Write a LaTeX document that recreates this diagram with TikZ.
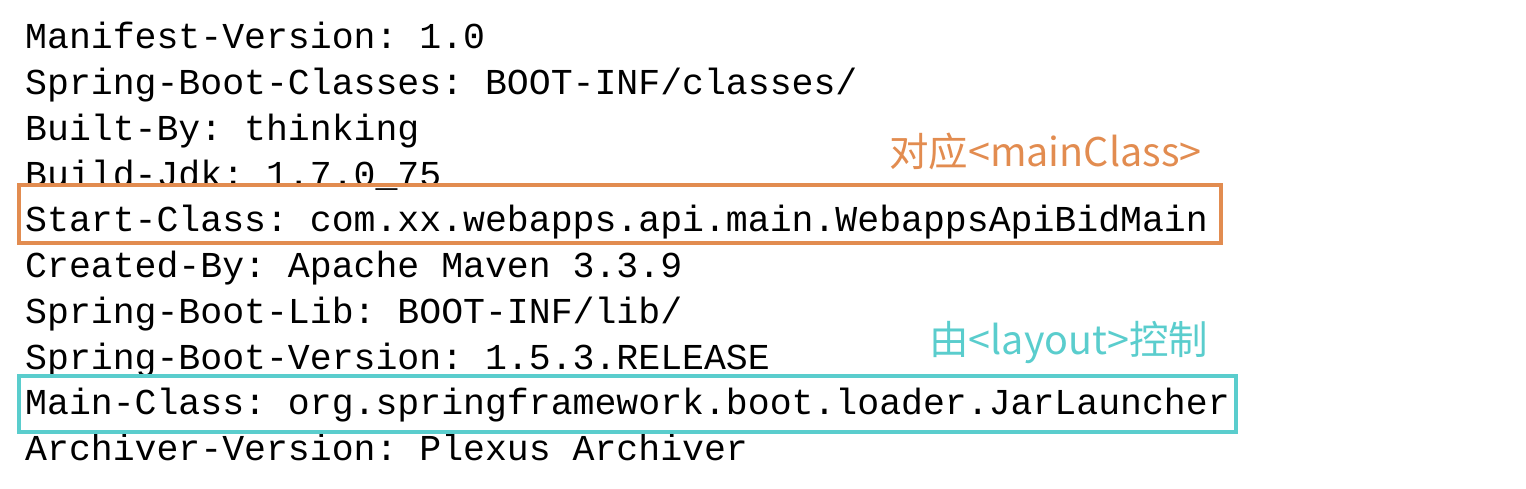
\documentclass[tikz,border=0pt]{standalone}
\usepackage{fontspec}
\setmonofont{Liberation Mono}
\newfontfamily\cjk{Noto Sans CJK SC}
\definecolor{orng}{RGB}{226,140,80}
\definecolor{cyn}{RGB}{90,205,205}
\begin{document}
\begin{tikzpicture}[x=1pt,y=-1pt,
  ln/.style={anchor=base west,inner sep=0pt,font=\ttfamily\fontsize{36.5}{40}\selectfont},
  lbl/.style={anchor=base west,inner sep=0pt,font=\cjk\fontsize{39.5}{43}\selectfont},
  hbox/.style={draw,line width=3.5pt}]
\useasboundingbox (0,0) rectangle (1526,488);
\node[ln] (l1) at (25,48) {Manifest-Version: 1.0};
\node[ln] (l2) at (25,94) {Spring-Boot-Classes: BOOT-INF/classes/};
\node[ln] (l3) at (25,140) {Built-By: thinking};
\node[ln] (l4) at (25,186) {Build-Jdk: 1.7.0\_75};
\node[ln] (l5) at (25,231) {Start-Class: com.xx.webapps.api.main.WebappsApiBidMain};
\node[ln] (l6) at (25,277) {Created-By: Apache Maven 3.3.9};
\node[ln] (l7) at (25,323) {Spring-Boot-Lib: BOOT-INF/lib/};
\node[ln] (l8) at (25,369) {Spring-Boot-Version: 1.5.3.RELEASE};
\node[ln] (l9) at (25,414) {Main-Class: org.springframework.boot.loader.JarLauncher};
\node[ln] (l10) at (25,460) {Archiver-Version: Plexus Archiver};
\draw[hbox,orng] (19,185) rectangle (1221,243);
\draw[hbox,cyn] (19,376) rectangle (1236,432);
\node[lbl,text=orng] (a) at (889,166) {对应<mainClass>};
\node[lbl,text=cyn] (b) at (929,354) {由<layout>控制};
\end{tikzpicture}
\end{document}
